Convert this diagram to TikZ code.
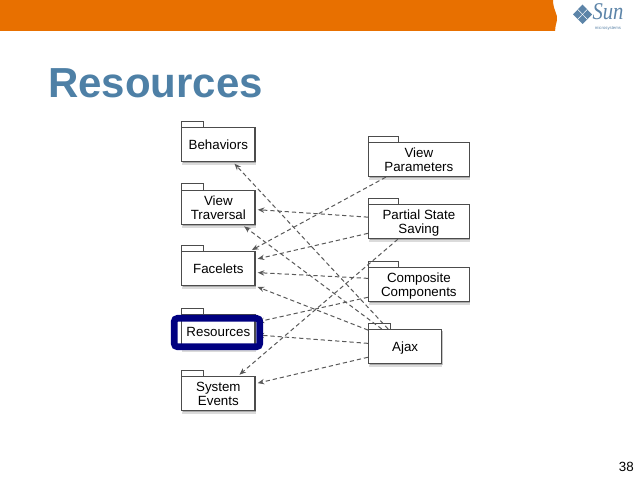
\documentclass[tikz,border=0pt]{standalone}
\usepackage{xcolor}
\usepackage{fontspec}
\setmainfont{Liberation Sans}
\newfontfamily\sunfont[FakeStretch=0.86]{Liberation Serif}
\usetikzlibrary{arrows.meta,shadows}

\definecolor{sunorange}{RGB}{232,112,0}
\definecolor{titleblue}{RGB}{78,128,166}
\definecolor{logoblue}{RGB}{92,132,168}
\definecolor{hilite}{RGB}{0,0,128}

\tikzset{
  pkgbox/.style={draw=black!70,fill=white,line width=0.9pt,anchor=north west,inner sep=0pt,
    minimum height=25.5pt,align=center,text depth=0pt,font=\fontsize{10}{10.5}\selectfont,
    drop shadow={shadow xshift=0.9pt,shadow yshift=-1.2pt,opacity=0.22,fill=black},
    drop shadow={shadow xshift=0.6pt,shadow yshift=-2.4pt,opacity=0.14,fill=black}},
  pkgleft/.style={pkgbox,minimum width=55.1pt},
  pkgright/.style={pkgbox,minimum width=75.4pt},
  pkgajax/.style={pkgbox,minimum width=54.8pt},
  tabshort/.style={draw=black!70,fill=white,line width=0.8pt,anchor=north west,inner sep=0pt,
    minimum width=16.5pt,minimum height=5.5pt},
  tablong/.style={tabshort,minimum width=22.5pt},
  dep/.style={draw=black!65,line width=0.75pt,dash pattern=on 3.2pt off 2.2pt,
    -{Stealth[length=5pt,width=4pt]},shorten >=1.5pt},
}

\begin{document}
\begin{tikzpicture}[x=0.75pt,y=0.75pt,yscale=-1,xscale=1]
\useasboundingbox (0,0) rectangle (638,478);

% header bar
\fill [sunorange] (0,0) -- (553,0) .. controls (553,10) and (558,14) .. (557,20) .. controls (556,25) and (555,27) .. (555,31) -- (0,31) -- cycle;
% logo
\fill [logoblue] (582.5,4.5) -- (592,14.5) -- (582.5,24) -- (573,14.5) -- cycle;
\draw [white,line width=0.35pt] (577.75,9.5) -- (587.25,19.25) (587.25,9.5) -- (577.75,19.25);
\node [anchor=base,text=logoblue,inner sep=0pt,text depth=0pt,font=\sunfont\itshape\fontsize{18}{18}\selectfont] (sunname) at (608,19.5) {Sun};
\node [text=logoblue,inner sep=0pt,font=\fontsize{3.2}{4}\selectfont] (sunsub) at (608,28) {microsystems};

% title and page number
\node [anchor=west,inner sep=0pt,text=titleblue,font=\bfseries\fontsize{31.5}{32}\selectfont] (title) at (48,83) {Resources};
\node [anchor=east,inner sep=0pt,font=\fontsize{10}{12}\selectfont] (pagenum) at (634,467) {38};

% tabs
\node [tabshort] (behaviorstab) at (181,120.5) {};
\node [tabshort] (traversaltab) at (181,183) {};
\node [tabshort] (faceletstab) at (181,245) {};
\node [tabshort] (resourcestab) at (181,308) {};
\node [tabshort] (eventstab) at (181,370) {};
\node [tablong] (parameterstab) at (368,136) {};
\node [tablong] (partialtab) at (368,198) {};
\node [tablong] (compositetab) at (368,261) {};
\node [tabshort] (ajaxtab) at (368,323) {};

% packages
\node [pkgleft] (behaviors) at (181,127) {Behaviors};
\node [pkgleft] (traversal) at (181,190) {View\\Traversal};
\node [pkgleft] (facelets) at (181,251) {Facelets};
\node [pkgleft] (resources) at (181,314) {Resources};
\node [pkgleft] (events) at (181,376) {System\\Events};
\node [pkgright] (parameters) at (368,142) {View\\Parameters};
\node [pkgright] (partial) at (368,204) {Partial State\\Saving};
\node [pkgright] (composite) at (368,267) {Composite\\Components};
\node [pkgajax] (ajax) at (368,329) {Ajax};

% dependencies
\draw [dep] (ajax.134) -- (behaviors.-50);
\draw [dep] (ajax.143) -- (traversal.-36);
\draw [dep] (partial.175) -- (traversal.-3);
\draw [dep] (parameters.208) -- (facelets.29);
\draw [dep] (partial.193) -- (facelets.14);
\draw [dep] (composite.173) -- (facelets.-6);
\draw [dep] (ajax.156) -- (facelets.south east);
\draw [dep] (composite.194) -- (resources.14);
\draw [dep] (ajax.175) -- (resources.-5);
\draw [dep] (partial.220) -- (events.42);
\draw [dep] (ajax.196) -- (events.15);

% selection
\draw [hilite,line width=5pt,rounded corners=2.5pt] (174.2,318.3) rectangle (259.8,346.8);

\end{tikzpicture}
\end{document}
